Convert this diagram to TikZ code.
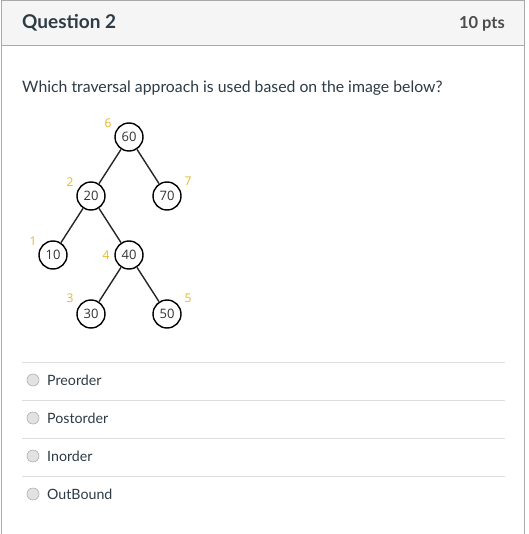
\documentclass[tikz,border=0pt]{standalone}
\usepackage{fontspec}
\setmainfont{Lato}
\newfontfamily\numfont{Open Sans}
\definecolor{hdrbg}{HTML}{F5F5F5}
\definecolor{bordergray}{HTML}{AAAAAA}
\definecolor{divgray}{HTML}{DDDDDD}
\definecolor{txt}{HTML}{2D3B45}
\definecolor{ordcol}{HTML}{E8B820}
\definecolor{radiofill}{HTML}{E2E2E2}
\definecolor{radiodraw}{HTML}{B0B0B0}
\begin{document}
\begin{tikzpicture}[x=1pt,y=-1pt,
  tnode/.style={circle,draw=black,line width=1.4pt,fill=white,minimum size=28pt,inner sep=0pt,font=\numfont\fontsize{13}{15}\selectfont,text=black!80},
  ordlab/.style={text=ordcol,font=\numfont\fontsize{12}{14}\selectfont,inner sep=0pt},
  edge/.style={line width=1.4pt,black!85},
  radio/.style={circle,draw=radiodraw,fill=radiofill,minimum size=12pt,inner sep=0pt,line width=0.6pt},
  opt/.style={anchor=west,text=txt,font=\fontsize{14.2}{17}\selectfont,inner sep=0pt},
  divider/.style={divgray,line width=0.8pt}]
\useasboundingbox (0,0) rectangle (528,534);
\fill[white] (0,0) rectangle (528,534);
% header
\fill[hdrbg] (1,1) rectangle (524,46);
\draw[bordergray,line width=1pt] (1,534) -- (1,1) -- (524,1) -- (524,534);
\draw[bordergray,line width=1pt] (1,46) -- (524,46);
\node[anchor=west,inner sep=0pt,text=txt,font=\bfseries\fontsize{19}{22}\selectfont] (title) at (22,23) {Question 2};
\node[anchor=east,inner sep=0pt,text=black!70,font=\bfseries\fontsize{16.5}{19}\selectfont] (pts) at (505,24) {10 pts};
% question
\node[anchor=west,inner sep=0pt,text=txt,font=\fontsize{15.8}{19}\selectfont] (q) at (22,88) {Which traversal approach is used based on the image below?};
% tree
\node[tnode] (n60) at (129,137) {60};
\node[tnode] (n20) at (91,196) {20};
\node[tnode] (n70) at (167,196) {70};
\node[tnode] (n10) at (53,255) {10};
\node[tnode] (n40) at (129,255) {40};
\node[tnode] (n30) at (91,314) {30};
\node[tnode] (n50) at (167,314) {50};
\draw[edge] (n60) -- (n20);
\draw[edge] (n60) -- (n70);
\draw[edge] (n20) -- (n10);
\draw[edge] (n20) -- (n40);
\draw[edge] (n40) -- (n30);
\draw[edge] (n40) -- (n50);
\node[ordlab] (o6) at (108,123) {6};
\node[ordlab] (o2) at (70,182) {2};
\node[ordlab] (o7) at (188,181) {7};
\node[ordlab] (o1) at (33,241) {1};
\node[ordlab] (o4) at (106,255) {4};
\node[ordlab] (o3) at (70,298) {3};
\node[ordlab] (o5) at (188,298) {5};
% options
\draw[divider] (22,362) -- (505,362);
\draw[divider] (22,400) -- (505,400);
\draw[divider] (22,438) -- (505,438);
\draw[divider] (22,476) -- (505,476);
\node[radio] (r1) at (33,380) {};
\node[radio] (r2) at (33,418) {};
\node[radio] (r3) at (33,456) {};
\node[radio] (r4) at (33,494) {};
\node[opt] (t1) at (47,380) {Preorder};
\node[opt] (t2) at (47,418) {Postorder};
\node[opt] (t3) at (47,456) {Inorder};
\node[opt] (t4) at (47,494) {OutBound};
\end{tikzpicture}
\end{document}
